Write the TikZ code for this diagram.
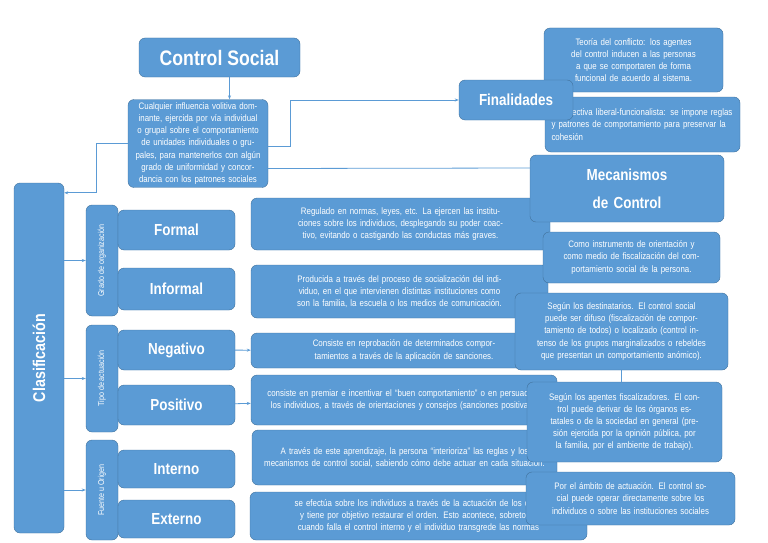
\documentclass[tikz,border=0pt]{standalone}
\usepackage{fontspec}
\setmainfont{Liberation Sans}[FakeStretch=0.84]
\usetikzlibrary{arrows.meta, calc}
\definecolor{boxblue}{HTML}{5B9BD5}
\definecolor{boxedge}{HTML}{41719C}
\begin{document}
\begin{tikzpicture}[x=1pt, y=1pt, >=Stealth,
    box/.style={draw=boxedge, fill=boxblue, rounded corners=6pt, text=white, align=center, inner sep=3pt},
    head/.style={box, font=\bfseries\fontsize{16}{19}\selectfont},
    desc/.style={box, font=\fontsize{9.4}{12.2}\selectfont},
    group/.style={box, rotate=90, font=\fontsize{8.5}{9}\selectfont, minimum height=32},
    link/.style={draw=boxblue, line width=0.8pt},
    arrow/.style={link, -{Stealth[length=4pt, width=3pt]}}
    ]
    \useasboundingbox (0,0) rectangle (768,-543);

    % cabecera y definicion
    \node[head, font=\bfseries\fontsize{21}{24}\selectfont, minimum width=161, minimum height=39] (title) at (219.5,-57.5) {Control Social};
    \node[desc, minimum width=140, minimum height=87, text width=132] (defin) at (198,-143.5) {Cualquier influencia volitiva dominante, ejercida por vía individual o grupal sobre el comportamiento de unidades individuales o grupales, para mantenerlos con algún grado de uniformidad y concordancia con los patrones sociales};

    % finalidades
    \node[desc, minimum width=179, minimum height=64, text width=160] (teoria) at (633.5,-60) {Teoría del conflicto: los agentes del control inducen a las personas a que se comportaren de forma funcional de acuerdo al sistema.};
    \node[desc, minimum width=195, minimum height=55, text width=182, align=left] (persp) at (642.5,-124.5) {Perspectiva liberal-funcionalista: se impone reglas y patrones de comportamiento para preservar la cohesión};
    \node[head, minimum width=114, minimum height=40] (final) at (516,-100) {Finalidades};

    % clasificacion
    \node[box, rotate=90, font=\bfseries\fontsize{17}{20}\selectfont, minimum width=350, minimum height=50] (clasif) at (39,-358) {Clasificación};
    \node[group, minimum width=111] (grado) at (102,-260.5) {Grado de organización};
    \node[group, minimum width=107] (tipo) at (102,-378.5) {Tipo de actuación};
    \node[group, minimum width=100] (fuente) at (102,-490) {Fuente u Origen};

    \node[head, minimum width=117, minimum height=40] (formal) at (176.5,-230) {Formal};
    \node[head, minimum width=117, minimum height=42] (informal) at (176.5,-289) {Informal};
    \node[head, minimum width=117, minimum height=40] (negat) at (176.5,-350) {Negativo};
    \node[head, minimum width=117, minimum height=40] (posit) at (176.5,-405) {Positivo};
    \node[head, minimum width=117, minimum height=38] (intern) at (176.5,-469) {Interno};
    \node[head, minimum width=117, minimum height=38] (extern) at (176.5,-519) {Externo};

    \node[desc, minimum width=299, minimum height=52, text width=282] (dformal) at (400.5,-224) {Regulado en normas, leyes, etc. La ejercen las instituciones sobre los individuos, desplegando su poder coactivo, evitando o castigando las conductas más graves.};
    \node[desc, minimum width=297, minimum height=53, text width=290] (dinformal) at (399.5,-291.5) {Producida a través del proceso de socialización del individuo, en el que intervienen distintas instituciones como son la familia, la escuela o los medios de comunicación.};
    \node[desc, minimum width=306, minimum height=35, text width=298] (dnegat) at (404,-350.5) {Consiste en reprobación de determinados comportamientos a través de la aplicación de sanciones.};
    \node[desc, minimum width=306, minimum height=50, text width=275] (dposit) at (404,-400) {consiste en premiar e incentivar el “buen comportamiento” o en persuadir a los individuos, a través de orientaciones y consejos (sanciones positivas).};
    \node[desc, minimum width=305, minimum height=55, text width=285] (dintern) at (404.5,-457.5) {A través de este aprendizaje, la persona “interioriza” las reglas y los mecanismos de control social, sabiendo cómo debe actuar en cada situación.};
    \node[desc, minimum width=337, minimum height=48, text width=325] (dextern) at (418.5,-516) {se efectúa sobre los individuos a través de la actuación de los otros y tiene por objetivo restaurar el orden. Esto acontece, sobretodo, cuando falla el control interno y el individuo transgrede las normas};

    % mecanismos
    \node[head, minimum width=194, minimum height=67, text width=140, font=\bfseries\fontsize{16}{28}\selectfont] (mecan) at (627,-188.5) {Mecanismos de Control};
    \node[desc, minimum width=177, minimum height=51, text width=160] (instr) at (631.5,-257.5) {Como instrumento de orientación y como medio de fiscalización del comportamiento social de la persona.};
    \node[desc, minimum width=213, minimum height=77, text width=195] (destin) at (621.5,-331.5) {Según los destinatarios. El control social puede ser difuso (fiscalización de comportamiento de todos) o localizado (control intenso de los grupos marginalizados o rebeldes que presentan un comportamiento anómico).};
    \node[desc, minimum width=195, minimum height=80, text width=180] (agentes) at (624.5,-422) {Según los agentes fiscalizadores. El control puede derivar de los órganos estatales o de la sociedad en general (presión ejercida por la opinión pública, por la familia, por el ambiente de trabajo).};
    \node[desc, minimum width=209, minimum height=53, text width=190] (ambito) at (630.5,-498.5) {Por el ámbito de actuación. El control social puede operar directamente sobre los individuos o sobre las instituciones sociales};

    % conectores
    \draw[arrow] ([xshift=10]title.south) -- ([xshift=10]title.south |- defin.north);
    \draw[arrow] (defin.west) -- ++(-31,0) |- ([yshift=-10]clasif.south east);
    \draw[arrow] ([yshift=-3]defin.east) -- ++(22,0) |- (final.west);
    \draw[link] ([yshift=-25]defin.east) -- (mecan.west |- 0,-168);
    \draw[link] (destin.south) -- (agentes.north -| destin.south);
    \draw[arrow] (clasif.south |- grado) -- (grado.north);
    \draw[arrow] (clasif.south |- tipo) -- (tipo.north);
    \draw[arrow] (clasif.south |- fuente) -- (fuente.north);
    \draw[arrow] (negat) -- (dnegat);
    \draw[arrow] (posit) -- (dposit);
\end{tikzpicture}
\end{document}
